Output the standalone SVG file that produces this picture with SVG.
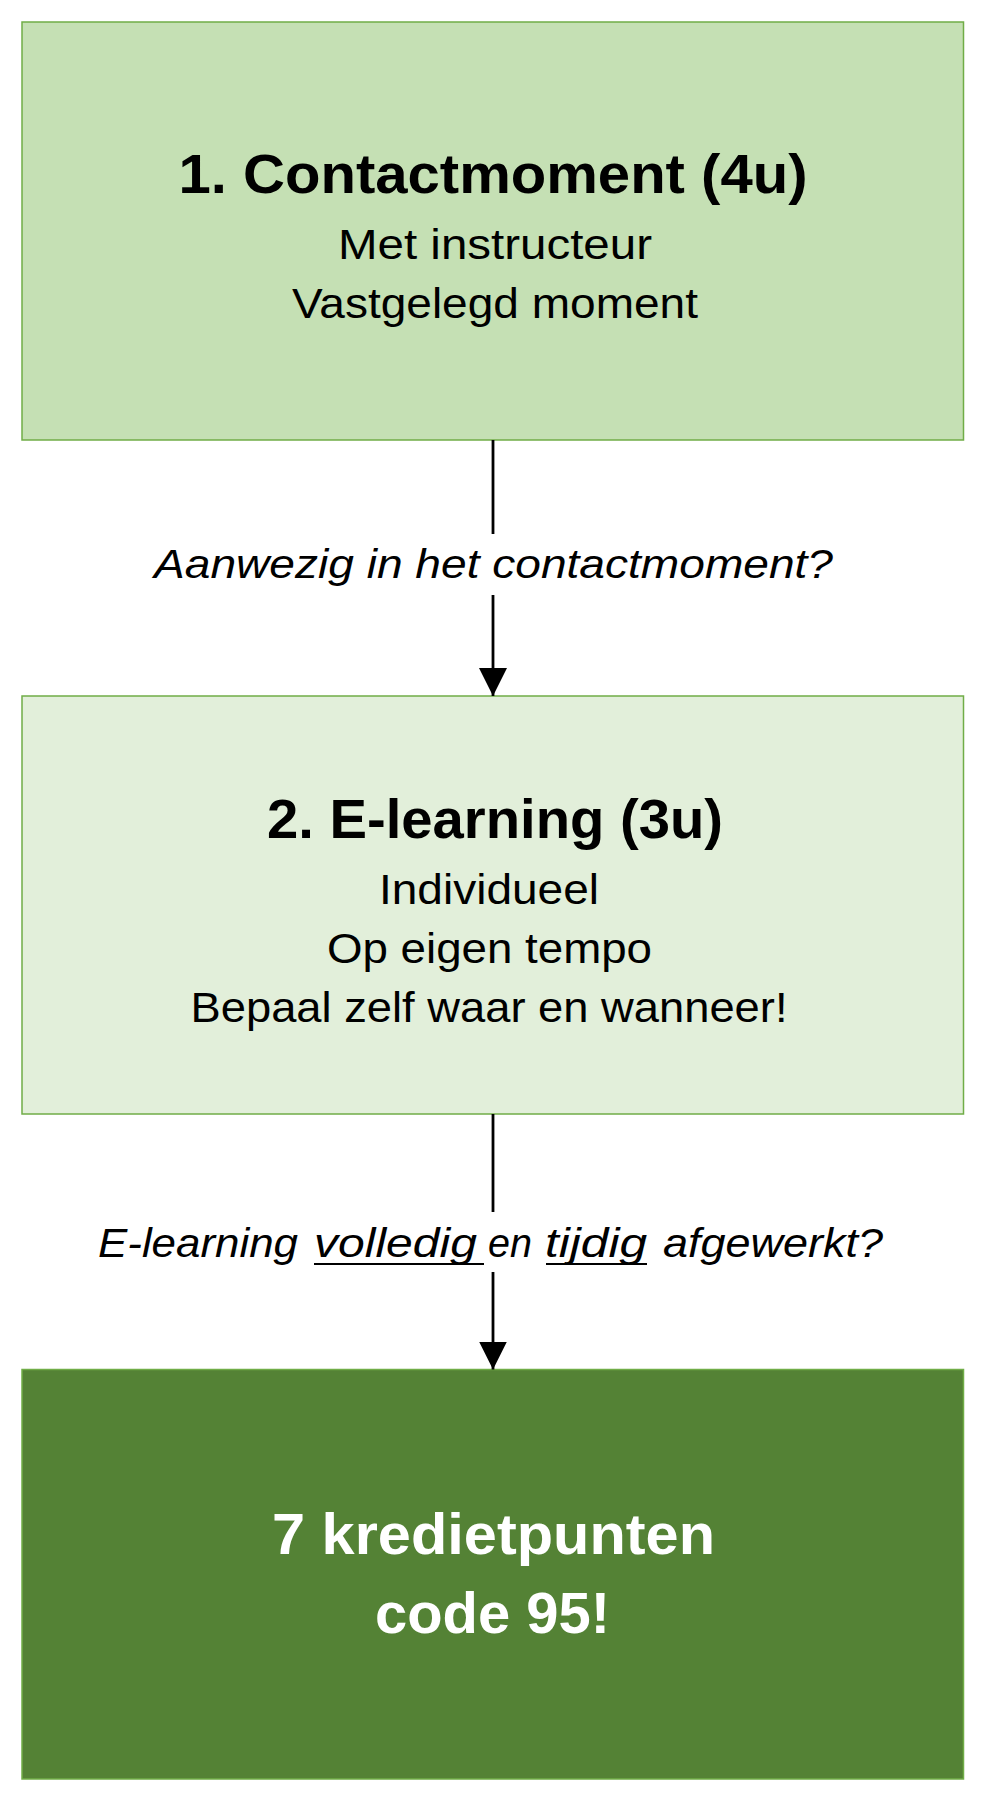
<svg xmlns="http://www.w3.org/2000/svg" width="986" height="1812" viewBox="0 0 986 1812">
  <style>
    .box { stroke: #70AD47; stroke-width: 1.5; }
    .t { font-family: "Liberation Sans", Arial, sans-serif; text-anchor: middle; fill: #000; }
    .s { text-anchor: start; }
    .title { font-weight: bold; font-size: 56px; }
    .body { font-size: 42px; }
    .lbl { font-style: italic; font-size: 40px; }
    .big { font-weight: bold; font-size: 58px; fill: #fff; }
    .conn { stroke: #000; stroke-width: 2.8; fill: none; }
    .ul { stroke: #000; stroke-width: 2.2; }
  </style>
  <defs>
    <marker id="arrow" markerUnits="userSpaceOnUse" markerWidth="28" markerHeight="29" refX="28" refY="14" orient="auto">
      <path d="M0,0 L28,14 L0,28 Z" fill="#000"/>
    </marker>
  </defs>
  <rect width="986" height="1812" fill="#fff"/>

  <g id="node1">
    <rect class="box" x="22" y="22" width="941.5" height="418" fill="#C5E0B4"/>
    <text class="t title" x="493" y="193" textLength="629" lengthAdjust="spacingAndGlyphs">1. Contactmoment (4u)</text>
    <text class="t body" x="495" y="258.5" textLength="314" lengthAdjust="spacingAndGlyphs">Met instructeur</text>
    <text class="t body" x="495" y="317.5" textLength="406" lengthAdjust="spacingAndGlyphs">Vastgelegd moment</text>
  </g>

  <g id="node2">
    <rect class="box" x="22" y="696" width="941.5" height="418" fill="#E2EFDA"/>
    <text class="t title" x="495" y="838" textLength="456" lengthAdjust="spacingAndGlyphs">2. E-learning (3u)</text>
    <text class="t body" x="489" y="903.5" textLength="220" lengthAdjust="spacingAndGlyphs">Individueel</text>
    <text class="t body" x="489.5" y="962.5" textLength="325" lengthAdjust="spacingAndGlyphs">Op eigen tempo</text>
    <text class="t body" x="489" y="1022" textLength="597" lengthAdjust="spacingAndGlyphs">Bepaal zelf waar en wanneer!</text>
  </g>

  <g id="node3">
    <rect class="box" x="22" y="1369.5" width="941.5" height="409.5" fill="#548235"/>
    <text class="t big" x="493.5" y="1554" textLength="443" lengthAdjust="spacingAndGlyphs">7 kredietpunten</text>
    <text class="t big" x="492.5" y="1633" textLength="235" lengthAdjust="spacingAndGlyphs">code 95!</text>
  </g>

  <g id="connectors">
    <line class="conn" x1="493" y1="440" x2="493" y2="534"/>
    <line class="conn" x1="493" y1="595" x2="493" y2="696" marker-end="url(#arrow)"/>
    <line class="conn" x1="493" y1="1114" x2="493" y2="1212"/>
    <line class="conn" x1="493" y1="1272" x2="493" y2="1369.5" marker-end="url(#arrow)"/>
  </g>

  <g id="label1">
    <text class="t lbl" x="493.5" y="578" textLength="679" lengthAdjust="spacingAndGlyphs">Aanwezig in het contactmoment?</text>
  </g>
  <g id="label2">
    <text class="t s lbl" x="98" y="1256.5" textLength="200" lengthAdjust="spacingAndGlyphs">E-learning</text>
    <text class="t s lbl" x="314" y="1256.5" textLength="163" lengthAdjust="spacingAndGlyphs">volledig</text>
    <text class="t s lbl" x="488" y="1256.5" textLength="44" lengthAdjust="spacingAndGlyphs">en</text>
    <text class="t s lbl" x="545" y="1256.5" textLength="102" lengthAdjust="spacingAndGlyphs">tijdig</text>
    <text class="t s lbl" x="663" y="1256.5" textLength="220" lengthAdjust="spacingAndGlyphs">afgewerkt?</text>
    <line class="ul" x1="314" y1="1264" x2="484" y2="1264"/>
    <line class="ul" x1="546" y1="1264" x2="647" y2="1264"/>
  </g>
</svg>
